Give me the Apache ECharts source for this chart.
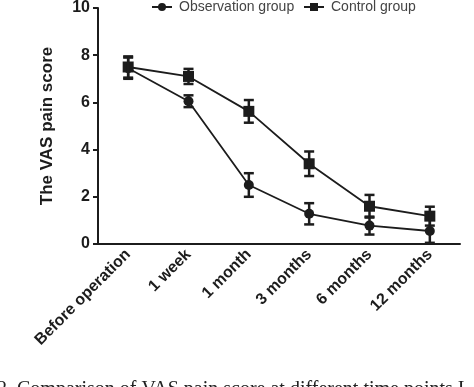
<!DOCTYPE html>
<html>
<head>
<meta charset="utf-8">
<script src="https://cdn.jsdelivr.net/npm/echarts@6/dist/echarts.min.js"></script>
<style>
html,body{margin:0;padding:0;background:#fff;}
#chart{width:474px;height:387px;}
</style>
</head>
<body>
<div id="chart"></div>
<script>
var categories = ['Before operation', '1 week', '1 month', '3 months', '6 months', '12 months'];
var observationMean = [7.45, 6.05, 2.5, 1.28, 0.78, 0.55];
var observationErr = [0.45, 0.25, 0.5, 0.45, 0.38, 0.5];
var controlMean = [7.5, 7.1, 5.62, 3.4, 1.6, 1.18];
var controlErr = [0.45, 0.32, 0.48, 0.52, 0.48, 0.4];
var yTicks = [0, 2, 4, 6, 8, 10];

var chart = echarts.init(document.getElementById('chart'));
var ink = '#1c1c1c';

function errData(mean, err) {
  return mean.map(function (m, i) { return [i, m - err[i], m + err[i]]; });
}
function errRender(params, api) {
  var x = api.value(0);
  var lo = api.coord([x, api.value(1)]);
  var hi = api.coord([x, api.value(2)]);
  var hw = 5;
  var st = { stroke: ink, lineWidth: 2.5 };
  return {
    type: 'group',
    children: [
      { type: 'line', shape: { x1: lo[0], y1: lo[1], x2: hi[0], y2: hi[1] }, style: st },
      { type: 'line', shape: { x1: lo[0] - hw, y1: lo[1], x2: lo[0] + hw, y2: lo[1] }, style: st },
      { type: 'line', shape: { x1: hi[0] - hw, y1: hi[1], x2: hi[0] + hw, y2: hi[1] }, style: st }
    ]
  };
}

var legendText = { color: '#444', fontSize: 14, fontFamily: 'Liberation Sans', padding: [0, 0, 0, 2] };

chart.setOption({
  animation: false,
  grid: { left: 98, right: 14, top: 4, bottom: 143, containLabel: false },
  legend: [
    { data: ['Observation group'], left: 146, top: -5, itemWidth: 20, itemHeight: 10, textStyle: legendText },
    { data: ['Control group'], left: 298, top: -5, itemWidth: 20, itemHeight: 10, textStyle: legendText }
  ],
  xAxis: {
    type: 'category',
    data: categories,
    boundaryGap: true,
    axisLine: { lineStyle: { color: ink, width: 2 } },
    axisTick: { alignWithLabel: true, length: 5, lineStyle: { color: ink, width: 2 } },
    axisLabel: { rotate: 45, color: ink, fontSize: 16, fontWeight: 'bold', fontFamily: 'Liberation Sans', margin: 8, interval: 0 }
  },
  yAxis: {
    type: 'value',
    min: yTicks[0], max: yTicks[yTicks.length - 1], interval: 2,
    name: 'The VAS pain score',
    nameLocation: 'middle', nameGap: 42,
    nameTextStyle: { color: ink, fontSize: 17, fontWeight: 'bold', fontFamily: 'Liberation Sans' },
    splitLine: { show: false },
    axisLine: { show: true, lineStyle: { color: ink, width: 2 } },
    axisTick: { show: true, length: 5, lineStyle: { color: ink, width: 2 } },
    axisLabel: { color: ink, fontSize: 16, fontWeight: 'bold', fontFamily: 'Liberation Sans', margin: 8 }
  },
  graphic: [{
    type: 'text', left: -3, top: 380,
    style: { text: '2. Comparison of VAS pain score at different time points I', fill: '#222', fontSize: 20, fontFamily: 'Liberation Serif' }
  }],
  series: [
    {
      name: 'Observation group', type: 'line', data: observationMean,
      symbol: 'circle', symbolSize: 10,
      lineStyle: { color: ink, width: 1.8 }, itemStyle: { color: ink }, z: 3
    },
    {
      name: 'Control group', type: 'line', data: controlMean,
      symbol: 'rect', symbolSize: 11,
      lineStyle: { color: ink, width: 1.8 }, itemStyle: { color: ink }, z: 3
    },
    { type: 'custom', data: errData(observationMean, observationErr), renderItem: errRender, z: 4, encode: { x: 0, y: [1, 2] } },
    { type: 'custom', data: errData(controlMean, controlErr), renderItem: errRender, z: 4, encode: { x: 0, y: [1, 2] } }
  ]
});
</script>
</body>
</html>
